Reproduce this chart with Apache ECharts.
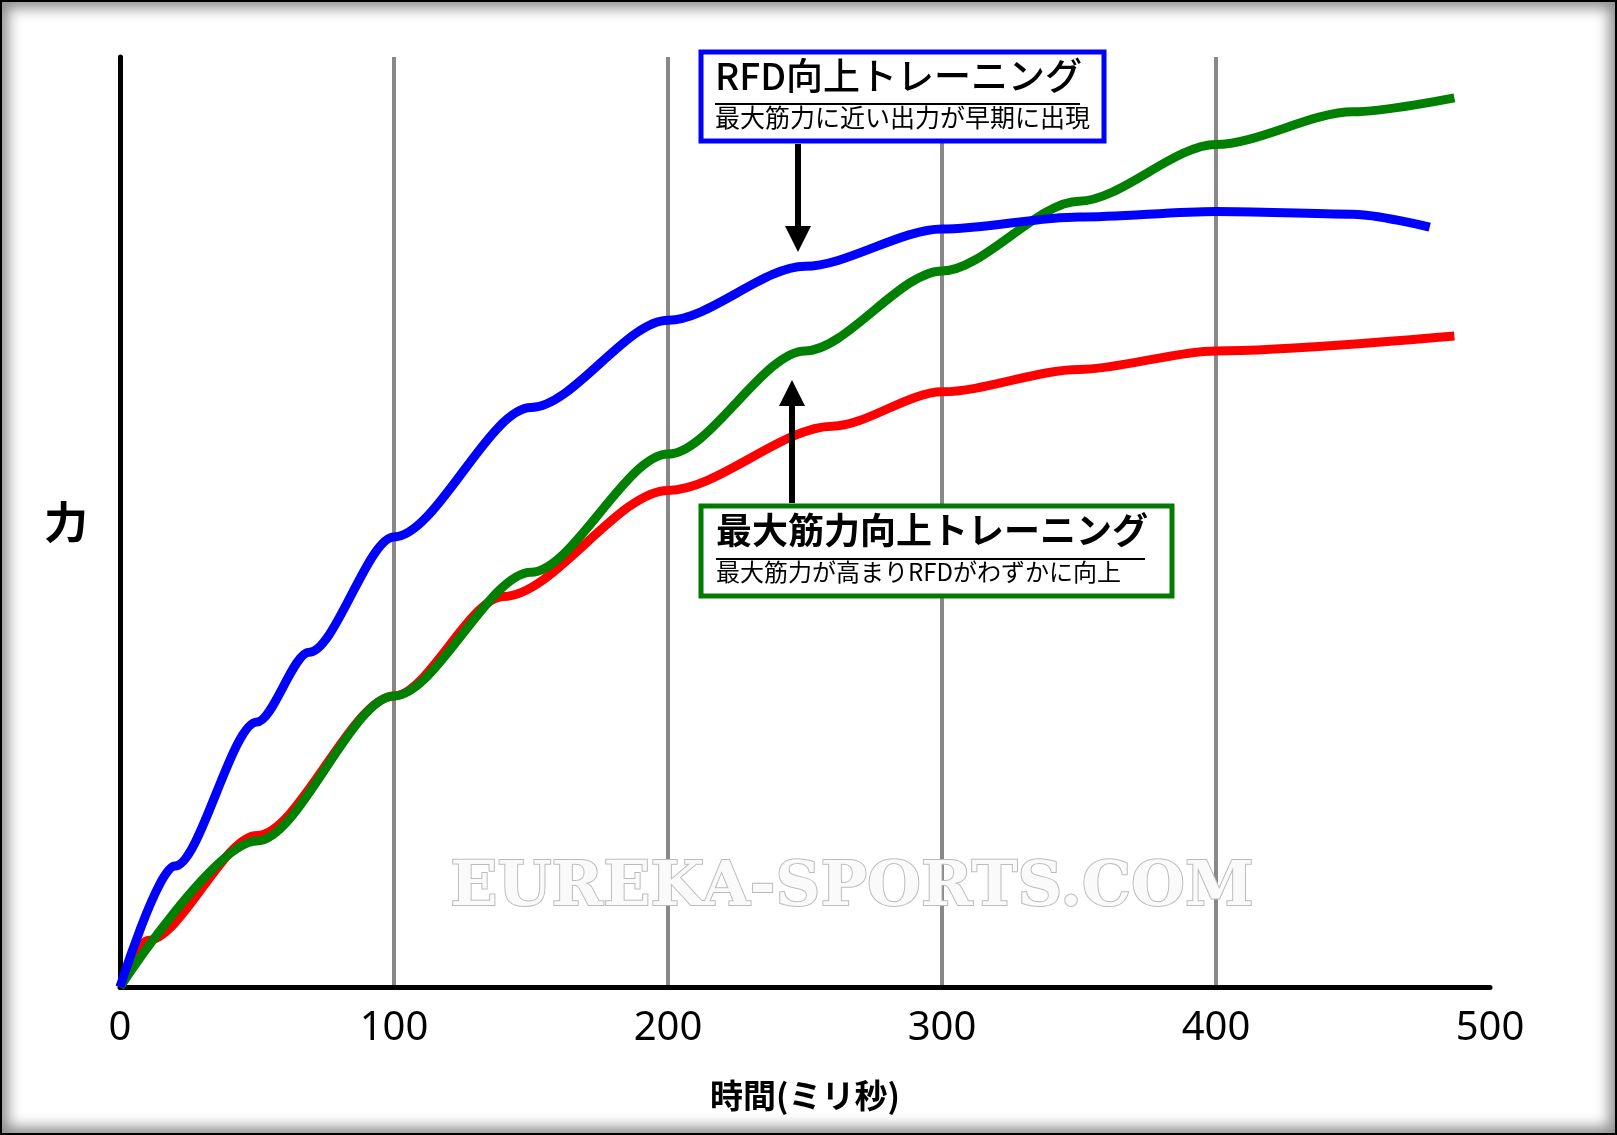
<!DOCTYPE html>
<html><head><meta charset="utf-8">
<script src="https://cdn.jsdelivr.net/npm/echarts@6/dist/echarts.min.js"></script>
<style>
html,body{margin:0;padding:0;background:#fff;}
#frame{position:absolute;left:0;top:0;width:1613px;height:1131px;border:2px solid #000;box-shadow:inset 0 0 14px 6px rgba(0,0,0,0.45);}
#c{position:absolute;left:0;top:0;width:1617px;height:1135px;}
</style></head><body>
<div id="frame"></div>
<div id="c"></div>
<script>
const xTicks = [0,100,200,300,400,500];
const blueX = [0,20,50,69,100,150,200,250,300,350,400,450,478];
const blueY = [0,13,28.5,36,48.4,62.3,71.7,77.5,81.5,82.8,83.4,83.1,81.7];
const greenX = [0,50,100,150,200,250,300,350,400,450,487];
const greenY = [0,15.7,31.3,44.6,57.3,68.4,77,84.5,90.6,94.1,95.6];
const redX = [0,10,50,100,140,200,260,300,350,400,487];
const redY = [0,5,16.3,31.3,42,53.4,60.3,64,66.4,68.4,70];
const pair = (xs, ys) => xs.map((x, i) => [x, ys[i]]);
const F = '"Noto Sans CJK JP", sans-serif';
const chart = echarts.init(document.getElementById('c'));
const mkSeries = (name, d, color) => ({
  name, type: 'line', data: d, smooth: 0.3, smoothMonotone: 'x', showSymbol: false,
  lineStyle: {color, width: 9}, z: 3
});
chart.setOption({
  animation: false,
  grid: {left: 120, right: 127, top: 57, bottom: 148},
  xAxis: {
    type: 'value', min: 0, max: 500, interval: 100,
    axisLine: {lineStyle: {color: '#000', width: 5}},
    axisTick: {show: false},
    splitLine: {show: true, lineStyle: {color: ['transparent', '#888', '#888', '#888', '#888', 'transparent'], width: 4}},
    axisLabel: {fontSize: 40, color: '#000', margin: 22, fontFamily: '"Noto Sans", sans-serif',
      formatter: v => String(xTicks[xTicks.indexOf(v)])},
    name: '時間(ミリ秒)', nameLocation: 'middle', nameGap: 92,
    nameTextStyle: {fontSize: 33, fontWeight: 'bold', color: '#000', fontFamily: F}
  },
  yAxis: {
    type: 'value', min: 0, max: 100,
    axisLine: {show: true, lineStyle: {color: '#000', width: 5}},
    axisTick: {show: false}, axisLabel: {show: false}, splitLine: {show: false},
    name: '力', nameLocation: 'middle', nameGap: 32, nameRotate: 0,
    nameTextStyle: {fontSize: 44, fontWeight: 'bold', color: '#000', fontFamily: F, padding: [0, 0, 34, 0]}
  },
  series: [
    mkSeries('赤', pair(redX, redY), '#ff0000'),
    mkSeries('緑', pair(greenX, greenY), '#008000'),
    mkSeries('青', pair(blueX, blueY), '#0000ff')
  ],
  graphic: [
    {type: 'rect', shape: {x: 701, y: 52, width: 403, height: 89}, style: {fill: '#fff', stroke: '#0000ff', lineWidth: 5}, z: 10},
    {type: 'text', left: 715, top: 57, style: {text: 'RFD向上トレーニング', font: '500 37px ' + F, fill: '#000'}, z: 11},
    {type: 'line', shape: {x1: 715, y1: 104, x2: 1080, y2: 104}, style: {stroke: '#000', lineWidth: 2}, z: 11},
    {type: 'text', left: 715, top: 105, style: {text: '最大筋力に近い出力が早期に出現', font: '25px ' + F, fill: '#000'}, z: 11},
    {type: 'rect', shape: {x: 701, y: 506, width: 471, height: 90}, style: {fill: '#fff', stroke: '#007a00', lineWidth: 5}, z: 10},
    {type: 'text', left: 716, top: 512, style: {text: '最大筋力向上トレーニング', font: 'bold 36px ' + F, fill: '#000'}, z: 11},
    {type: 'line', shape: {x1: 716, y1: 559, x2: 1145, y2: 559}, style: {stroke: '#000', lineWidth: 2}, z: 11},
    {type: 'text', left: 716, top: 560, style: {text: '最大筋力が高まりRFDがわずかに向上', font: '24px ' + F, fill: '#000'}, z: 11},
    {type: 'line', shape: {x1: 798, y1: 144, x2: 798, y2: 228}, style: {stroke: '#000', lineWidth: 6}, z: 11},
    {type: 'polygon', shape: {points: [[785, 226], [811, 226], [798, 252]]}, style: {fill: '#000'}, z: 11},
    {type: 'line', shape: {x1: 792, y1: 503, x2: 792, y2: 404}, style: {stroke: '#000', lineWidth: 6}, z: 11},
    {type: 'polygon', shape: {points: [[779, 406], [805, 406], [792, 380]]}, style: {fill: '#000'}, z: 11},
    {type: 'text', x: 852, y: 889, style: {text: 'EUREKA-SPORTS.COM', font: 'bold 62px "DejaVu Serif", serif', fill: '#fafafa', stroke: '#bbbbbb', lineWidth: 2, align: 'center', verticalAlign: 'middle', shadowColor: 'rgba(0,0,0,0.6)', shadowBlur: 14, shadowOffsetX: 3, shadowOffsetY: 8}, z: 12}
  ]
});
</script></body></html>
